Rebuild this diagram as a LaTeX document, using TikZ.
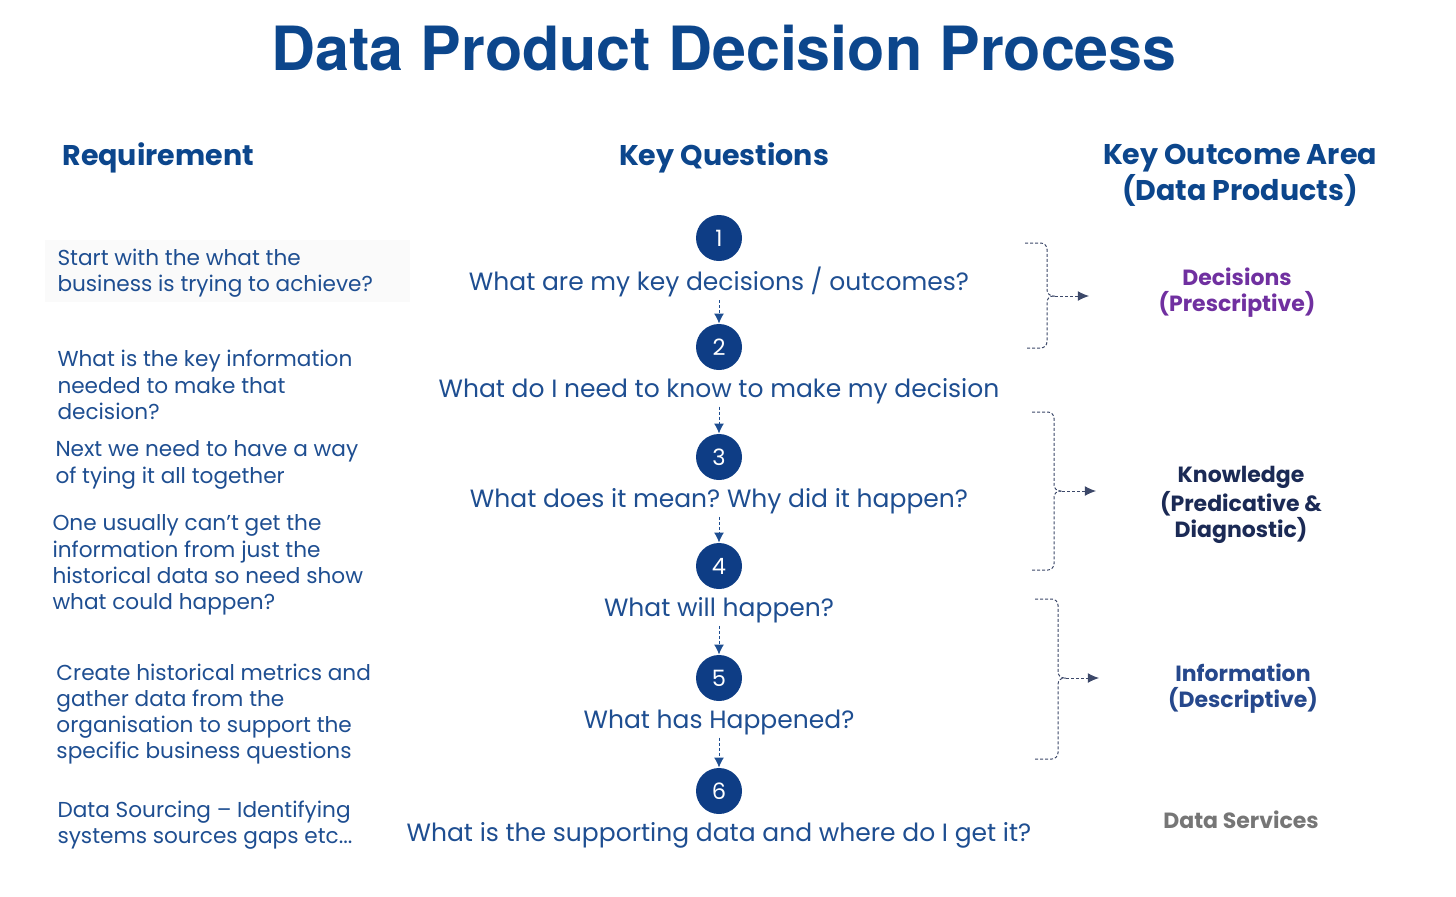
\documentclass[tikz,border=0pt]{standalone}
\usepackage{fontspec}
\setmainfont{Poppins}
\newfontfamily\titlefont{TeX Gyre Heros}
\usetikzlibrary{arrows.meta}
\frenchspacing

\definecolor{titleblue}{RGB}{12,70,140}
\definecolor{textblue}{RGB}{30,78,145}
\definecolor{circblue}{RGB}{14,61,133}
\definecolor{navyout}{RGB}{27,42,85}
\definecolor{purpout}{RGB}{112,48,160}
\definecolor{infoout}{RGB}{38,72,140}
\definecolor{servgray}{RGB}{118,118,118}
\definecolor{bracegray}{RGB}{60,72,105}

\tikzset{
	numcirc/.style={circle, fill=circblue, text=white, minimum size=18.4pt, inner sep=0pt, font=\fontsize{9}{10}\selectfont},
	question/.style={text=textblue, inner sep=1pt, font=\fontsize{10}{12}\selectfont},
	reqtext/.style={text=textblue, anchor=west, align=left, inner sep=0pt, font=\fontsize{8.65}{10.5}\selectfont},
	header/.style={text=titleblue, inner sep=0pt, font=\bfseries\fontsize{11.4}{13}\selectfont},
	outcome/.style={align=center, font=\bfseries\fontsize{8.8}{10.4}\selectfont},
	flow/.style={dash pattern=on 1.2pt off 0.8pt, textblue, -{Latex[length=4pt,width=4pt]}},
	bracket/.style={dash pattern=on 1.2pt off 0.8pt, bracegray, rounded corners=2.5pt},
	link/.style={dash pattern=on 1.2pt off 0.8pt, bracegray, -{Latex[length=4.5pt,width=4pt]}},
}

\begin{document}
\begin{tikzpicture}[x=0.4pt, y=-0.4pt]
	\useasboundingbox (0,0) rectangle (1456,896);
	
	%title
	\node[text=titleblue, font=\titlefont\bfseries\fontsize{24.4}{26}\selectfont] (title) at (724,48) {Data Product Decision Process};
	
	%column headers
	\node[header, anchor=west] (hreq) at (62,158) {Requirement};
	\node[header] (hkey) at (724,158) {Key Questions};
	\node[header, align=center] (hout) at (1240,175) {Key Outcome Area\\(Data Products)};
	
	%requirements
	\fill[gray!4] (45,240) rectangle (410,302);
	\node[reqtext] (r1) at (57,273) {Start with the what the\\business is trying to achieve?};
	\node[reqtext] (r2) at (57,385) {What is the key information\\needed to make that\\decision?};
	\node[reqtext] (r3) at (55,465) {Next we need to have a way\\of tying it all together};
	\node[reqtext] (r4) at (52,565) {One usually can’t get the\\information from just the\\historical data so need show\\what could happen?};
	\node[reqtext] (r5) at (56,714) {Create historical metrics and\\gather data from the\\organisation to support the\\specific business questions};
	\node[reqtext] (r6) at (57,825) {Data Sourcing – Identifying\\systems sources gaps etc...};
	
	%key questions
	\foreach \n/\y/\q in {1/238/{What are my key decisions / outcomes?},
			2/347/{What do I need to know to make my decision},
			3/457/{What does it mean? Why did it happen?},
			4/566/{What will happen?},
			5/678/{What has Happened?},
			6/791/{What is the supporting data and where do I get it?}}{
		\node[numcirc] (c\n) at (719,\y) {\n};
		\node[question] (q\n) at (719,\y+44) {\q};
	}
	\foreach \a/\b in {1/2, 2/3, 3/4, 4/5, 5/6}{
		\draw[flow] (q\a.south) -- (c\b.north);
	}
	
	%outcome areas
	\node[outcome, text=purpout] (o1) at (1237,293) {Decisions\\(Prescriptive)};
	\node[outcome, text=navyout] (o2) at (1241,505) {Knowledge\\(Predicative \&\\Diagnostic)};
	\node[outcome, text=infoout] (o3) at (1243,689) {Information\\(Descriptive)};
	\node[outcome, text=servgray] (o4) at (1241,820) {Data Services};
	
	%brackets
	\coordinate (b1) at (1055,296);
	\coordinate (t1) at (1089,296);
	\draw[bracket] (1025,243) -- (1047,243) -- (1047,296) -- (b1);
	\draw[bracket] (1027,348) -- (1047,348) -- (1047,296) -- (b1);
	\draw[link] (b1) -- (t1);
	
	\coordinate (b2) at (1062,491);
	\coordinate (t2) at (1096,491);
	\draw[bracket] (1032,412) -- (1054,412) -- (1054,491) -- (b2);
	\draw[bracket] (1032,570) -- (1054,570) -- (1054,491) -- (b2);
	\draw[link] (b2) -- (t2);
	
	\coordinate (b3) at (1066,678);
	\coordinate (t3) at (1099,678);
	\draw[bracket] (1035,599) -- (1058,599) -- (1058,678) -- (b3);
	\draw[bracket] (1035,759) -- (1058,759) -- (1058,678) -- (b3);
	\draw[link] (b3) -- (t3);
\end{tikzpicture}
\end{document}
